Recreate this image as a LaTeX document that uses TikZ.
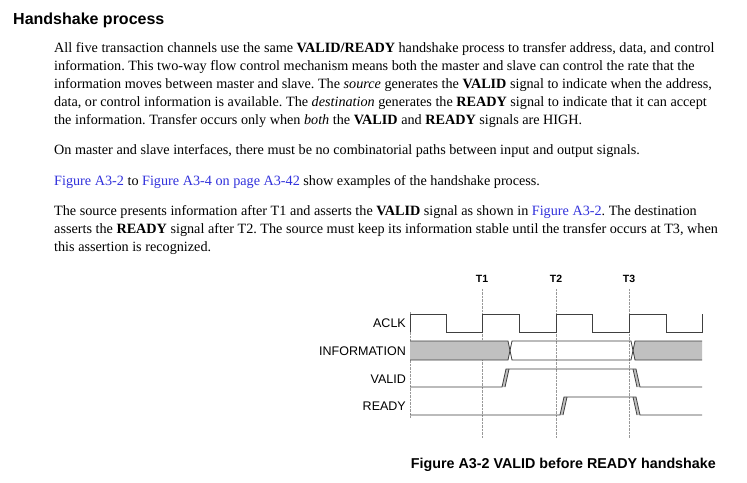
\documentclass[tikz,border=0pt]{standalone}
\usepackage{fontspec}
\setmainfont{Liberation Serif}
\newfontfamily\sansf{Liberation Sans}
\definecolor{lnk}{RGB}{50,50,220}
\definecolor{busg}{RGB}{192,192,192}
\begin{document}
\frenchspacing
\begin{tikzpicture}[x=1pt,y=-1pt,
  body/.style={anchor=base west,inner sep=0,font=\fontsize{14.2}{16}\selectfont},
  lbl/.style={anchor=east,inner sep=0,font=\sansf\fontsize{12.5}{14}\selectfont},
  tl/.style={anchor=center,inner sep=0,font=\sansf\bfseries\fontsize{10.5}{12}\selectfont},
  sig/.style={line width=0.8pt,draw=black!75},
  dot/.style={densely dotted,draw=black!40,line width=0.4pt}]
\useasboundingbox[fill=white] (0,0) rectangle (747,482);
\node[anchor=base west,inner sep=0,font=\sansf\bfseries\fontsize{16}{18}\selectfont] (h) at (13,24) {Handshake process};
\def\L{54}
\node[body] (l1) at (\L,52) {All five transaction channels use the same \textbf{VALID/READY} handshake process to transfer address, data, and control};
\node[body] (l2) at (\L,70) {information. This two-way flow control mechanism means both the master and slave can control the rate that the};
\node[body] (l3) at (\L,88) {information moves between master and slave. The \textit{source} generates the \textbf{VALID} signal to indicate when the address,};
\node[body] (l4) at (\L,106) {data, or control information is available. The \textit{destination} generates the \textbf{READY} signal to indicate that it can accept};
\node[body] (l5) at (\L,124) {the information. Transfer occurs only when \textit{both} the \textbf{VALID} and \textbf{READY} signals are HIGH.};
\node[body] (l6) at (\L,154) {On master and slave interfaces, there must be no combinatorial paths between input and output signals.};
\node[body] (l7) at (\L,185) {\textcolor{lnk}{Figure A3-2} to \textcolor{lnk}{Figure A3-4 on page A3-42} show examples of the handshake process.};
\node[body] (l8) at (\L,215) {The source presents information after T1 and asserts the \textbf{VALID} signal as shown in \textcolor{lnk}{Figure A3-2}. The destination};
\node[body] (l9) at (\L,233) {asserts the \textbf{READY} signal after T2. The source must keep its information stable until the transfer occurs at T3, when};
\node[body] (l10) at (\L,251) {this assertion is recognized.};
% timing diagram
\node[tl] (t1) at (482,279) {T1};
\node[tl] (t2) at (556,279) {T2};
\node[tl] (t3) at (629,279) {T3};
\draw[dot] (t1.south)++(0,6) -- (482,438);
\draw[dot] (t2.south)++(0,6) -- (556,438);
\draw[dot] (t3.south)++(0,6) -- (629,438);
\draw[dot] (410,312) -- (410,418);
\node[lbl] (aclk) at (406,323) {ACLK};
\node[lbl] (info) at (406,351) {INFORMATION};
\node[lbl] (valid) at (406,379) {VALID};
\node[lbl] (ready) at (406,406) {READY};
% clock
\draw[sig] (410,332) -- (410,314) -- (446,314) -- (446,332) -- (482,332) -- (482,314) -- (519,314) -- (519,332) -- (556,332) -- (556,314) -- (592,314) -- (592,332) -- (629,332) -- (629,314) -- (666,314) -- (666,332) -- (702,332) -- (702,314);
% bus
\fill[busg] (410,341) -- (508,341) -- (510,350.5) -- (508,360) -- (410,360) -- cycle;
\fill[busg] (702,341) -- (635,341) -- (633,350.5) -- (635,360) -- (702,360) -- cycle;
\draw[sig] (410,341) -- (508,341) -- (512,360) -- (631,360) -- (635,341) -- (702,341);
\draw[sig] (410,360) -- (508,360) -- (512,341) -- (631,341) -- (635,360) -- (702,360);
% valid
\fill[busg] (502,387) -- (506,369) -- (509,369) -- (505,387) -- cycle;
\fill[busg] (633,369) -- (637,387) -- (640,387) -- (636,369) -- cycle;
\draw[sig] (410,387) -- (502,387) -- (506,369) -- (636,369) -- (640,387) -- (702,387);
\draw[sig] (505,387) -- (509,369);
\draw[sig] (633,369) -- (637,387);
% ready
\fill[busg] (560,415) -- (564,397) -- (567,397) -- (563,415) -- cycle;
\fill[busg] (633,397) -- (637,415) -- (640,415) -- (636,397) -- cycle;
\draw[sig] (410,415) -- (560,415) -- (564,397) -- (636,397) -- (640,415) -- (702,415);
\draw[sig] (563,415) -- (567,397);
\draw[sig] (633,397) -- (637,415);
\node[anchor=base east,inner sep=0,font=\sansf\bfseries\fontsize{14.3}{16}\selectfont] (cap) at (716,468) {Figure A3-2 VALID before READY handshake};
\end{tikzpicture}
\end{document}
